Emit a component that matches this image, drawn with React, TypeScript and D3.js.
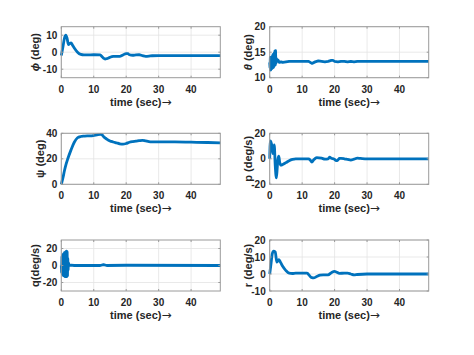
import React from "react";
import * as d3 from "d3";

const xTicks = [0, 10, 20, 30, 40];

const phiT = [0,0.5,1,1.4,1.8,2.2,2.6,3,3.5,4,5,6,7,8,10,12,12.5,13,13.5,14,15,16,17,18,19,20,20.5,21,22,23,24,25,26,27,28,30,35,40,45,49];
const phiV = [-2,3,8.5,10,8,4.5,5,5.5,4,2.5,0,-1.3,-1.6,-1.6,-1.5,-1.6,-2.5,-3.5,-4,-3.8,-3,-2.5,-2.4,-2.4,-1.6,-0.8,-0.9,-1.5,-1.8,-1.6,-1.5,-2,-2.4,-2.3,-2.1,-2,-2,-2,-2,-2];

const thetaT = [0,0.1,0.2,0.3,0.4,0.5,0.6,0.7,0.8,0.9,1.0,1.1,1.2,1.3,1.4,1.5,1.6,1.7,1.8,1.9,2.0,2.2,2.5,3,3.5,4,5,6,8,10,12,13,14,15,16,17,18,19,19.5,20,21,22,23,24,25,26,27,28,30,35,40,45,49];
const thetaV = [13,12,14,11.5,14,12,13.8,11.8,14.2,12.3,14.5,12,14.6,12.2,14.8,12.4,15.2,12.5,15.3,12.8,13.8,13.2,13.5,13,13.1,13,13.1,13.2,13.2,13.2,13.2,12.8,13.1,13.3,13.2,13.1,13.2,13.4,13.4,13.2,13.1,13.2,13.2,13.1,13.2,13.1,13.2,13.2,13.2,13.2,13.2,13.2,13.2];

const psiT = [0,0.5,1,1.5,2,3,4,5,6,7,8,9,10,11,12,12.5,13,14,15,16,17,18,19,20,21,22,23,24,25,26,27,28,30,35,40,45,49];
const psiV = [0,5,11,16,20,27,33,36.5,37.5,37.8,38,38,38.3,38.8,39.2,39,37.5,35.5,34,33.2,32.5,31.8,31.5,32,33,33.5,33.8,34.2,34.5,34,33.5,33.3,33.2,33.2,33,32.8,32.5];

const pT = [0,0.2,0.4,0.7,1.0,1.4,1.7,2.05,2.3,2.5,2.8,3.1,3.5,4,5,6,7,8,10,12,12.5,13,13.5,14.5,16,17,18,18.5,19,20,20.5,21,21.5,22,23,24,25,26,27,28,30,35,40,49];
const pV = [0,14,13,10,4,11,-5,-15,-8,-1,2,-3,-5,-4.5,-3,-1.5,-0.5,0,0,0,-1,-2.5,-1,1,0.5,-0.2,0,1.2,0.5,-0.5,-1.5,-1,0.3,0.3,0,-0.5,-1,-0.3,0.5,0.3,0,0,0,0];

const qT = [0,0.1,0.2,0.3,0.4,0.5,0.6,0.7,0.8,0.9,1.0,1.1,1.2,1.3,1.4,1.5,1.6,1.7,1.8,1.9,2.0,2.1,2.2,2.4,3,4,12,13,14,20,49];
const qV = [0,-8,10,-10,12,-11,13,-12,14,-12,15,-13,15,-12,16,-13,17,-13,16,-12,8,-5,3,0,0.5,0,0,1,0,0.3,0];

const rT = [0,0.4,0.8,1.2,1.7,2.2,2.8,3.3,4,5,6,7,8,10,11.5,12.5,13,13.5,14.5,15.5,16.5,18,19,20,20.5,21.5,23,24,25,26,27,30,35,49];
const rV = [0,6,12,13.5,13,7,8.5,7,4.5,2,0.5,0.3,0.5,0.5,0.5,-1.5,-2.2,-2.3,-1.5,-0.7,-0.5,-0.5,0.8,1.5,1.2,0.4,0.5,0.5,0,-0.5,-0.3,0,0,0];

const panels = [
  { sym: "ϕ", italic: true, unit: " (deg)", t: phiT, v: phiV, yDom: [-15, 15], yTicks: [-10, 0, 10], x0: 61.3, y0: 26.7, gap: 26, noisy: false },
  { sym: "θ", italic: true, unit: " (deg)", t: thetaT, v: thetaV, yDom: [10, 20], yTicks: [10, 15, 20], x0: 269.7, y0: 26.7, gap: 22, noisy: true },
  { sym: "ψ", italic: false, unit: " (deg)", t: psiT, v: psiV, yDom: [0, 40], yTicks: [0, 20, 40], x0: 61.3, y0: 133.3, gap: 21, noisy: false },
  { sym: "p", italic: false, unit: " (deg/s)", t: pT, v: pV, yDom: [-20, 20], yTicks: [-20, 0, 20], x0: 269.7, y0: 133.3, gap: 22, noisy: false },
  { sym: "q", italic: false, unit: "(deg/s)", t: qT, v: qV, yDom: [-30, 30], yTicks: [-20, 0, 20], x0: 61.3, y0: 240, gap: 26, noisy: true },
  { sym: "r", italic: false, unit: " (deg/s)", t: rT, v: rV, yDom: [-10, 20], yTicks: [-10, 0, 10, 20], x0: 269.7, y0: 240, gap: 22, noisy: false },
];

const W = 159;
const H = 51;
const FONT = "'Liberation Sans', Arial, Helvetica, sans-serif";
const TXT = "#262626";

function Panel({ p }: { p: any }) {
  const x = d3.scaleLinear().domain([0, 49]).range([p.x0, p.x0 + W]);
  const y = d3.scaleLinear().domain(p.yDom).range([p.y0 + H, p.y0]);
  const pts: [number, number][] = p.t.map((t: number, i: number) => [t, p.v[i]]);
  const line = d3
    .line<[number, number]>()
    .x((d) => x(d[0]))
    .y((d) => y(d[1]))
    .curve(p.noisy ? d3.curveLinear : d3.curveMonotoneX);
  const cx = p.x0 + W / 2;
  const cy = p.y0 + H / 2;
  return (
    <g>
      <rect x={p.x0} y={p.y0} width={W} height={H} fill="#fff" />
      {xTicks.map((t) => (
        <line key={"gx" + t} x1={x(t)} x2={x(t)} y1={p.y0} y2={p.y0 + H} stroke="#e3e3e3" strokeWidth={0.8} />
      ))}
      {p.yTicks.map((t: number) => (
        <line key={"gy" + t} x1={p.x0} x2={p.x0 + W} y1={y(t)} y2={y(t)} stroke="#e3e3e3" strokeWidth={0.8} />
      ))}
      <path d={line(pts) || ""} fill="none" stroke="#0072BD" strokeWidth={2.8} strokeLinejoin="round" />
      <rect x={p.x0} y={p.y0} width={W} height={H} fill="none" stroke="#9a9a9a" strokeWidth={1} />
      {xTicks.map((t) => (
        <g key={"tx" + t}>
          <line x1={x(t)} x2={x(t)} y1={p.y0 + H} y2={p.y0 + H - 2} stroke="#9a9a9a" />
          <line x1={x(t)} x2={x(t)} y1={p.y0} y2={p.y0 + 2} stroke="#9a9a9a" />
          <text x={x(t)} y={p.y0 + H + 15} textAnchor="middle" fontSize={10} fontWeight="bold" fill={TXT} fontFamily={FONT}>
            {t}
          </text>
        </g>
      ))}
      {p.yTicks.map((t: number) => (
        <g key={"ty" + t}>
          <line x1={p.x0} x2={p.x0 + 2} y1={y(t)} y2={y(t)} stroke="#9a9a9a" />
          <line x1={p.x0 + W} x2={p.x0 + W - 2} y1={y(t)} y2={y(t)} stroke="#9a9a9a" />
          <text x={p.x0 - 4} y={y(t)} dy="0.35em" textAnchor="end" fontSize={10} fontWeight="bold" fill={TXT} fontFamily={FONT}>
            {t}
          </text>
        </g>
      ))}
      <text x={cx} y={p.y0 + H + 28} textAnchor="middle" fontSize={11} fontWeight="bold" fill={TXT} fontFamily={FONT}>
        time (sec)
        <tspan fontFamily="'DejaVu Sans', sans-serif" fontWeight="normal" fontSize={12}>→</tspan>
      </text>
      <text
        transform={`translate(${p.x0 - p.gap},${cy}) rotate(-90)`}
        textAnchor="middle"
        dy="0.35em"
        fontSize={11}
        fontWeight="bold"
        fill={TXT}
        fontFamily={FONT}
      >
        <tspan fontStyle={p.italic ? "italic" : "normal"}>{p.sym}</tspan>
        {p.unit}
      </text>
    </g>
  );
}

export default function App() {
  return (
    <svg
      width={474}
      height={355}
      style={{ position: "absolute", left: 0, top: 0, background: "#fff" }}
    >
      <rect width={474} height={355} fill="#fff" />
      {panels.map((p, i) => (
        <Panel key={i} p={p} />
      ))}
    </svg>
  );
}
